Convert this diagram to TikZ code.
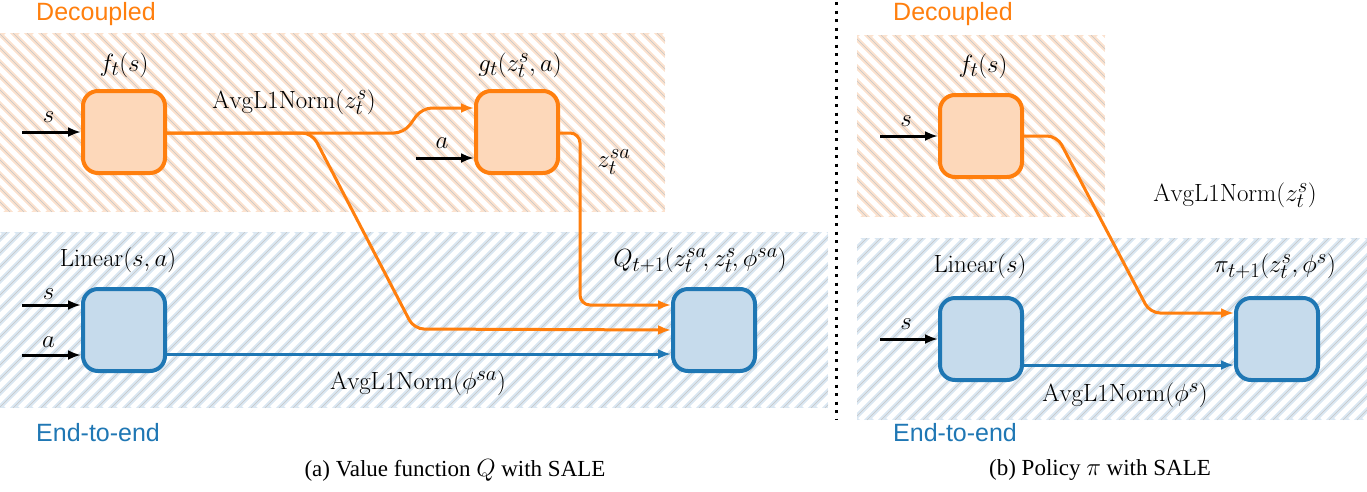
\documentclass[tikz,border=0pt]{standalone}
\usepackage[no-math]{fontspec}
\setmainfont{Liberation Serif}
\newfontfamily\lab{Liberation Sans}
\usetikzlibrary{calc,arrows.meta}
\definecolor{tor}{HTML}{FF7F0E}
\definecolor{tbl}{HTML}{1F77B4}
\definecolor{lor}{HTML}{FDD8BA}
\definecolor{lbl}{HTML}{C6DBEC}
\definecolor{bor}{HTML}{FCE2CE}
\definecolor{bbl}{HTML}{DAE7F2}
\begin{document}
\begin{tikzpicture}[x=1pt,y=-1pt,
  box/.style={draw,line width=4pt,rounded corners=15pt,minimum size=82pt,inner sep=0pt},
  obox/.style={box,draw=tor,fill=lor},
  bbox/.style={box,draw=tbl,fill=lbl},
  oar/.style={draw=tor,line width=3pt,rounded corners=10pt,-{Latex[length=13pt,width=10pt]}},
  bar/.style={draw=tbl,line width=3pt,-{Latex[length=13pt,width=10pt]}},
  kar/.style={draw=black,line width=3pt,-{Latex[length=13pt,width=10pt]}},
  txt/.style={font=\fontsize{30}{36}\selectfont,inner sep=0pt},
  reg/.style={font=\lab\fontsize{25}{30}\selectfont,inner sep=0pt,anchor=west},
  captxt/.style={font=\fontsize{23}{28}\selectfont,inner sep=0pt}]
\useasboundingbox (0,0) rectangle (1367,491);
\newcommand{\ohatch}[4]{%
  \begin{scope}
  \clip (#1,#2) rectangle (#3,#4);
  \fill[bor] (#1,#2) rectangle (#3,#4);
  \foreach \k in {-400,-386,...,1400}{
    \draw[white,line width=5pt] (\k,#2) -- ++(#4-#2,#4-#2);
    \draw[gray!45,line width=0.5pt] (\k+7,#2) -- ++(#4-#2,#4-#2);}
  \end{scope}}
\newcommand{\bhatch}[4]{%
  \begin{scope}
  \clip (#1,#2) rectangle (#3,#4);
  \fill[bbl] (#1,#2) rectangle (#3,#4);
  \foreach \k in {-400,-386,...,1600}{
    \draw[white,line width=5pt] (\k,#4) -- ++(#4-#2,#2-#4);
    \draw[gray!45,line width=0.5pt] (\k+7,#4) -- ++(#4-#2,#2-#4);}
  \end{scope}}
\ohatch{0}{33}{665}{212}
\bhatch{0}{232}{828}{408}
\ohatch{857}{35}{1105}{217}
\bhatch{857}{238}{1367}{420}
\draw[line width=3pt,dash pattern=on 3pt off 5.5pt] (836,2) -- (836,420);
\node[reg,text=tor] (d1) at (36,14) {Decoupled};
\node[reg,text=tbl] (e1) at (36,433) {End-to-end};
\node[reg,text=tor] (d2) at (893,14) {Decoupled};
\node[reg,text=tbl] (e2) at (893,433) {End-to-end};
% left panel
\node[obox] (f) at (124,132) {};
\node[obox] (g) at (517,132) {};
\node[bbox] (L) at (124,330) {};
\node[bbox] (Q) at (714,330) {};
\coordinate (s1) at (22,132);
\coordinate (a1) at (416,158);
\coordinate (s2) at (22,305);
\coordinate (a2) at (22,355);
\draw[kar] (s1) -- (f.west) node[txt,pos=0.45,above=8pt] {$s$};
\draw[kar] (a1) -- (a1 -| g.west) node[txt,pos=0.45,above=8pt] {$a$};
\draw[kar] (s2) -- (s2 -| L.west) node[txt,pos=0.45,above=4pt] {$s$};
\draw[kar] (a2) -- (a2 -| L.west) node[txt,pos=0.45,above=6pt] {$a$};
\node[txt] (lf) at (124,65) {$f_t(s)$};
\node[txt] (lg) at (520,65) {$g_t(z_t^s,a)$};
\node[txt] (lL) at (118,260) {$\mathrm{Linear}(s,a)$};
\node[txt] (lQ) at (700,260) {$Q_{t+1}(z_t^{sa}\!,z_t^s\!,\phi^{sa})$};
\node[txt] (n1) at (294,102) {$\mathrm{AvgL1Norm}(z_t^s)$};
\node[txt] (n2) at (418,383) {$\mathrm{AvgL1Norm}(\phi^{sa})$};
\node[txt] (zsa) at (614,162) {$z_t^{sa}$};
\draw[oar] (f.east) ++(0,1) -- (404,133) -- (422,108) -- (g.west |- 0,108);
\draw[oar] (f.east) ++(0,1) -- (312,133) -- (414,329) -- (Q.west);
\draw[oar] (g.east) ++(0,1) -- (580,133) -- (580,305) -- ($(Q.west)+(0,-25)$);
\draw[bar] (L.east |- 0,354) -- ($(Q.west)+(0,24)$);
% right panel
\node[obox] (f2) at (981,136) {};
\node[bbox] (L2) at (981,339) {};
\node[bbox] (P) at (1277,339) {};
\coordinate (s3) at (880,136);
\coordinate (s4) at (880,339);
\draw[kar] (s3) -- (f2.west) node[txt,pos=0.45,above=8pt] {$s$};
\draw[kar] (s4) -- (L2.west) node[txt,pos=0.45,above=8pt] {$s$};
\node[txt] (lf2) at (983,66) {$f_t(s)$};
\node[txt] (lL2) at (980,266) {$\mathrm{Linear}(s)$};
\node[txt] (lP) at (1275,266) {$\pi_{t+1}(z_t^s,\phi^s)$};
\node[txt] (n3) at (1235,195) {$\mathrm{AvgL1Norm}(z_t^s)$};
\node[txt] (n4) at (1125,395) {$\mathrm{AvgL1Norm}(\phi^s)$};
\draw[oar] (f2.east) -- (1057,136) -- (1150,313) -- (P.west |- 0,313);
\draw[bar] (L2.east |- 0,365) -- (P.west |- 0,365);
\node[captxt] (c1) at (455,470) {(a) Value function $Q$ with SALE};
\node[captxt] (c2) at (1100,470) {(b) Policy $\pi$ with SALE};
\end{tikzpicture}
\end{document}
